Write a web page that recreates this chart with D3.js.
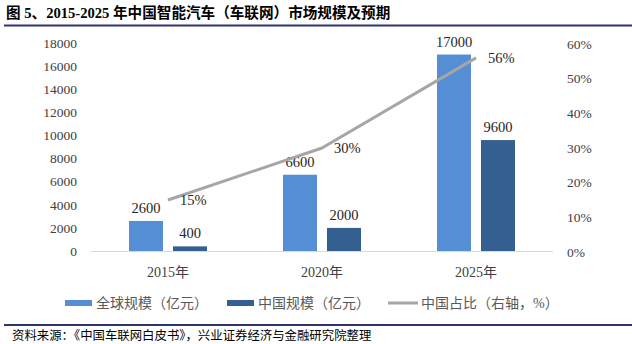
<!DOCTYPE html>
<html><head><meta charset="utf-8">
<script src="https://cdn.jsdelivr.net/npm/d3@7/dist/d3.min.js"></script>
<style>
body{margin:0;background:#fff;}
svg{display:block;}
</style></head>
<body>
<svg id="chart" width="632" height="344"></svg>
<script>
const categories = ["2015年", "2020年", "2025年"];
const globalScale = [2600, 6600, 17000];
const chinaScale = [400, 2000, 9600];
const chinaShare = [0.15, 0.30, 0.56];
const shareLabels = ["15%", "30%", "56%"];
const leftTicks = [0, 2000, 4000, 6000, 8000, 10000, 12000, 14000, 16000, 18000];
const rightTicks = [0, 0.1, 0.2, 0.3, 0.4, 0.5, 0.6];
const seriesNames = ["全球规模（亿元）", "中国规模（亿元）", "中国占比（右轴，%）"];
const titleText = "图 5、2015-2025 年中国智能汽车（车联网）市场规模及预期";
const sourceText = "资料来源：《中国车联网白皮书》，兴业证券经济与金融研究院整理";

const svg = d3.select("#chart");
const serif = "'Liberation Serif','Times New Roman','Noto Sans CJK SC',serif";
const cjk = "'Liberation Serif','Noto Sans CJK SC',sans-serif";
const blue = "#558ED5", dark = "#335F91", gray = "#A6A6A6", txt = "#404040";

const pL = 91, pR = 553, pT = 43, pB = 251;
const x = d3.scaleBand().domain(categories).range([pL, pR]);
const y = d3.scaleLinear().domain([0, 18000]).range([pB, pT]);
const y2 = d3.scaleLinear().domain([0, 0.6]).range([pB + 1, pT + 1]);
const barW = 34, gap = 10;

// title
svg.append("text").attr("x", 6).attr("y", 18).style("font-family", cjk)
  .attr("font-weight", "bold").style("font-size", "14.6px").attr("fill", "#000").text(titleText);
svg.append("line").attr("x1", 4).attr("x2", 632).attr("y1", 25.5).attr("y2", 25.5)
  .attr("stroke", "#2E3470").attr("stroke-width", 2);

// left axis
const la = svg.append("g").attr("transform", `translate(${pL},0)`)
  .call(d3.axisLeft(y).tickValues(leftTicks).tickSize(0).tickPadding(14).tickFormat(d3.format("d")));
la.select(".domain").remove();
la.attr("font-family", null);
la.selectAll("text").style("font-family", serif).style("font-size", "13.5px").attr("fill", txt);

// right axis
const ra = svg.append("g").attr("transform", `translate(${pR},0)`)
  .call(d3.axisRight(y2).tickValues(rightTicks).tickSize(0).tickPadding(14).tickFormat(d3.format(".0%")));
ra.select(".domain").remove();
ra.attr("font-family", null);
ra.selectAll("text").style("font-family", serif).style("font-size", "13.5px").attr("fill", txt);

// bars
const g = svg.append("g");
g.selectAll(".b1").data(globalScale).join("rect")
  .attr("x", (d, i) => x(categories[i]) + x.bandwidth() / 2 - gap / 2 - barW)
  .attr("y", d => y(d)).attr("width", barW).attr("height", d => pB - y(d)).attr("fill", blue);
g.selectAll(".b2").data(chinaScale).join("rect")
  .attr("x", (d, i) => x(categories[i]) + x.bandwidth() / 2 + gap / 2)
  .attr("y", d => y(d)).attr("width", barW).attr("height", d => pB - y(d)).attr("fill", dark);

// x axis line
svg.append("line").attr("x1", pL).attr("x2", pR).attr("y1", pB + 0.5).attr("y2", pB + 0.5)
  .attr("stroke", "#D9D9D9").attr("stroke-width", 1);

// category labels
svg.selectAll(".cat").data(categories).join("text")
  .attr("x", d => x(d) + x.bandwidth() / 2).attr("y", 277).attr("text-anchor", "middle")
  .style("font-family", cjk).style("font-size", "14px").attr("fill", txt).text(d => d);

// bar labels
svg.selectAll(".l1").data(globalScale).join("text")
  .attr("x", (d, i) => x(categories[i]) + x.bandwidth() / 2 - gap / 2 - barW / 2)
  .attr("y", d => y(d) - 8).attr("text-anchor", "middle")
  .style("font-family", serif).style("font-size", "14.5px").attr("fill", "#262626").text(d => d);
svg.selectAll(".l2").data(chinaScale).join("text")
  .attr("x", (d, i) => x(categories[i]) + x.bandwidth() / 2 + gap / 2 + barW / 2)
  .attr("y", d => y(d) - 8).attr("text-anchor", "middle")
  .style("font-family", serif).style("font-size", "14.5px").attr("fill", "#262626").text(d => d);

// line
const line = d3.line().x((d, i) => x(categories[i]) + x.bandwidth() / 2).y(d => y2(d));
svg.append("path").datum(chinaShare).attr("d", line).attr("fill", "none")
  .attr("stroke", gray).attr("stroke-width", 3).attr("stroke-linejoin", "round");
svg.selectAll(".pl").data(chinaShare).join("text")
  .attr("x", (d, i) => x(categories[i]) + x.bandwidth() / 2 + 12)
  .attr("y", d => y2(d) + 5)
  .style("font-family", serif).style("font-size", "14.5px").attr("fill", "#262626").text((d, i) => shareLabels[i]);

// legend
const lg = svg.append("g");
const legendItems = [
  { x: 65, type: "bar", color: blue, label: seriesNames[0] },
  { x: 227, type: "bar", color: dark, label: seriesNames[1] },
  { x: 388, type: "line", color: gray, label: seriesNames[2] }
];
legendItems.forEach(it => {
  if (it.type === "bar") {
    lg.append("rect").attr("x", it.x).attr("y", 300).attr("width", 27).attr("height", 6).attr("fill", it.color);
  } else {
    lg.append("line").attr("x1", it.x).attr("x2", it.x + 30).attr("y1", 303).attr("y2", 303)
      .attr("stroke", it.color).attr("stroke-width", 3);
  }
  lg.append("text").attr("x", it.x + (it.type === "bar" ? 31 : 33)).attr("y", 308)
    .style("font-family", cjk).style("font-size", "14px").attr("fill", "#595959").text(it.label);
});

// footer
svg.append("line").attr("x1", 4).attr("x2", 632).attr("y1", 325).attr("y2", 325)
  .attr("stroke", "#2E3470").attr("stroke-width", 2);
svg.append("text").attr("x", 12).attr("y", 340).style("font-family", cjk)
  .style("font-size", "12.4px").attr("fill", "#000").text(sourceText);
</script>
</body></html>
